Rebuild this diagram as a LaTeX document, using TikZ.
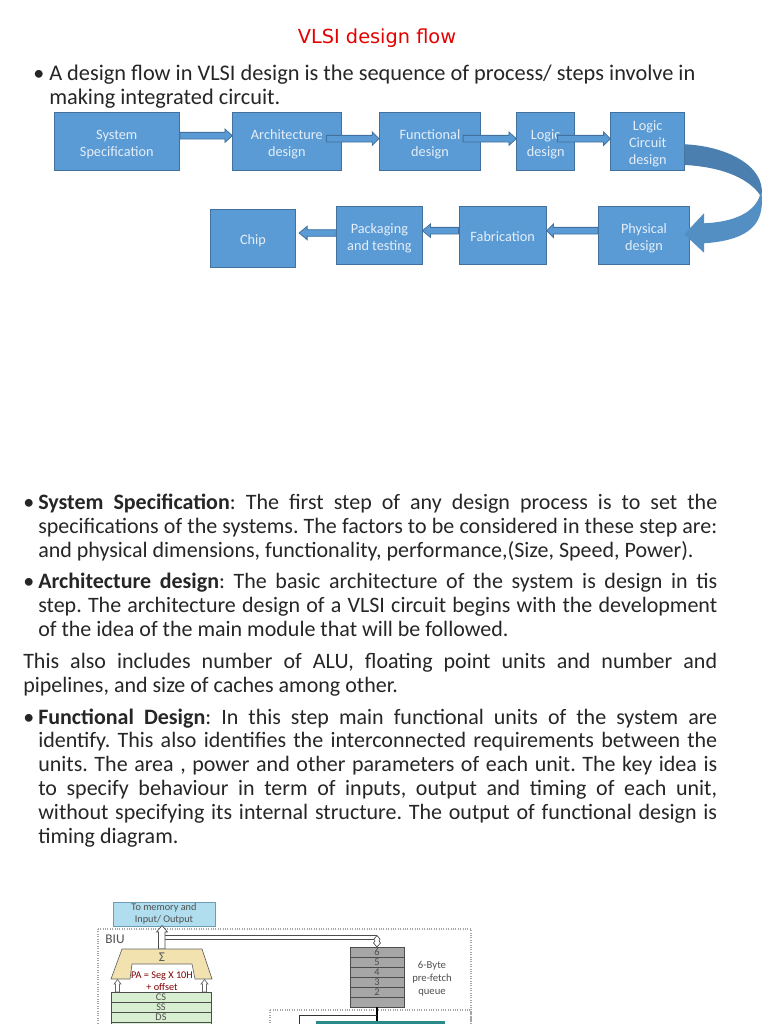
\documentclass[tikz,border=0pt]{standalone}
\usepackage{fontspec}
\setmainfont{Carlito}
\newfontfamily\titlefont{DejaVu Sans}
\usetikzlibrary{calc}
\frenchspacing
\definecolor{boxfill}{HTML}{5B9BD5}
\definecolor{boxline}{HTML}{41719C}
\definecolor{boxtext}{HTML}{E4EEF8}
\definecolor{ribbon}{HTML}{4A7FB0}
\definecolor{bodyink}{HTML}{262626}
\definecolor{figink}{HTML}{505050}
\definecolor{memfill}{HTML}{B0DEEE}
\definecolor{memline}{HTML}{6C9DB5}
\definecolor{adderfill}{HTML}{F1E2B0}
\definecolor{regfill}{HTML}{D8EED0}
\definecolor{alufill}{HTML}{2A8A8A}
\newcommand{\flowarrow}[3]{% start, end, head length
  \draw[flowshape]
    ($(#1)!2.5pt!90:(#2)$) --
    ($($(#2)!#3!(#1)$)!2.5pt!90:(#2)$) --
    ($($(#2)!#3!(#1)$)!5pt!90:(#2)$) --
    (#2) --
    ($($(#2)!#3!(#1)$)!5pt!-90:(#2)$) --
    ($($(#2)!#3!(#1)$)!2.5pt!-90:(#2)$) --
    ($(#1)!2.5pt!-90:(#2)$) -- cycle;}
\newcommand{\stepnode}[6]{% name, x0, y0, x1, y1, text
  \node[stepbox, minimum width=#4*0.75pt-#2*0.75pt, minimum height=#5*0.75pt-#3*0.75pt] (#1) at ({(#2+#4)/2},{(#3+#5)/2}) {\begin{tabular}{@{}c@{}}\noalign{\vskip 4.5pt}#6\end{tabular}};}
\newcommand{\jline}[5]{\node[textline] (#1) at (#2,#3) {\makebox[\dimexpr 0.75pt*#4\relax][s]{#5}};}
\newcommand{\pline}[4]{\node[textline] (#1) at (#2,#3) {#4};}
\tikzset{
  stepbox/.style={draw=boxline, fill=boxfill, line width=0.6pt, text=boxtext, inner sep=0pt,
     font=\fontsize{10.7pt}{12.75pt}\selectfont},
  flowshape/.style={draw=boxline, fill=boxfill, line width=0.6pt, line join=miter},
  textline/.style={anchor=base west, inner sep=0pt, yshift=-0.4pt, text=bodyink, font=\fontsize{16.5pt}{18pt}\selectfont},
  figlabel/.style={inner sep=0pt, text=figink, align=center, font=\fontsize{7.7pt}{9pt}\selectfont},
  dotbox/.style={draw=gray!70, densely dotted, line width=0.8pt},
  regrow/.style={draw=black!70, fill=regfill, line width=0.7pt},
  qrow/.style={draw=gray!60!black, fill=gray!70, line width=0.6pt},
}
\begin{document}
\begin{tikzpicture}[x=0.75pt,y=-0.75pt]
\useasboundingbox (0,0) rectangle (768,1024);
\clip (0,0) rectangle (768,1024);
\fill[white] (0,0) rectangle (768,1024);

\node[inner sep=0pt, text=red!90!black, font=\titlefont\fontsize{14.5pt}{16pt}\selectfont] (title) at (377,38) {VLSI design flow};
\pline{b0}{33}{80}{•}
\node[textline, font=\fontsize{16.75pt}{18pt}\selectfont] (intro1) at (49,80) {A design flow in VLSI design is the sequence of process/ steps involve in};
\node[textline, font=\fontsize{16.75pt}{18pt}\selectfont] (intro2) at (49,104) {making integrated circuit.};

\stepnode{sys}{54}{112.5}{179.5}{170.5}{System\\Specification}
\stepnode{arch}{232.7}{112.5}{341}{170.5}{Architecture\\design}
\stepnode{func}{379.3}{112.5}{480.7}{170.5}{Functional\\design}
\stepnode{logic}{516.7}{112.5}{574.7}{170.5}{Logic\\design}
\stepnode{circ}{610.7}{112.5}{684.7}{170.5}{Logic\\Circuit\\design}
\stepnode{chip}{210.3}{209.7}{295.7}{267.3}{Chip}
\stepnode{pack}{336.7}{206.7}{422}{264.3}{Packaging\\and testing}
\stepnode{fab}{459}{206.7}{546.3}{264.3}{Fabrication}
\stepnode{phys}{598.3}{206.7}{689.7}{264.3}{Physical\\design}

\flowarrow{$(sys.east)+(0,-5.8)$}{$(arch.west)+(0,-5.8)$}{5.5pt}
\flowarrow{$(arch.east)+(-15,-2.8)$}{$(func.west)+(0,-2.8)$}{5pt}
\flowarrow{$(func.east)+(-18,-2.8)$}{$(logic.west)+(0,-2.8)$}{5.5pt}
\flowarrow{$(logic.east)+(-17.7,-2.8)$}{$(circ.west)+(0,-2.8)$}{5pt}
\flowarrow{$(phys.west)+(0,-4.8)$}{$(fab.east)+(0,-4.8)$}{5pt}
\flowarrow{$(fab.west)+(0,-4.8)$}{$(pack.east)+(0,-4.8)$}{6pt}
\flowarrow{$(pack.west)+(0,-2.5)$}{$(chip.east)+(3,-5.5)$}{6pt}

% curved arrow
\fill[boxfill!92!black] (761.7,195) .. controls (764,222) and (752,240) .. (704,243.3)
   -- (704,252.7) -- (684.3,234.3) -- (704,213.3) -- (704,223.3)
   .. controls (735,222) and (755,212) .. (760,195) -- cycle;
\fill[ribbon] (684.7,144.3) .. controls (725,146) and (765,165) .. (761.7,195)
   -- (760,195) .. controls (750,180) and (725,167) .. (684.7,165) -- cycle;

% body text
\pline{b1}{23}{509}{•}
\jline{t1}{38}{509}{679}{\textbf{System Specification}: The first step of any design process is to set the}
\jline{t2}{38}{533}{679}{specifications of the systems. The factors to be considered in these step are:}
\pline{t3}{38}{557}{and physical dimensions, functionality, performance,(Size, Speed, Power).}
\pline{b2}{23}{588}{•}
\jline{t4}{38}{588}{679}{\textbf{Architecture design}: The basic architecture of the system is design in tis}
\jline{t5}{38}{612}{679}{step. The architecture design of a VLSI circuit begins with the development}
\pline{t6}{38}{636}{of the idea of the main module that will be followed.}
\jline{t7}{23}{668}{694}{This also includes number of ALU, floating point units and number and}
\pline{t8}{23}{692}{pipelines, and size of caches among other.}
\pline{b3}{23}{724}{•}
\jline{t9}{38}{724}{679}{\textbf{Functional Design}: In this step main functional units of the system are}
\jline{t10}{38}{747}{679}{identify. This also identifies the interconnected requirements between the}
\jline{t11}{38}{771}{679}{units. The area , power and other parameters of each unit. The key idea is}
\jline{t12}{38}{795}{679}{to specify behaviour in term of inputs, output and timing of each unit,}
\jline{t13}{38}{819}{679}{without specifying its internal structure. The output of functional design is}
\pline{t14}{38}{843}{timing diagram.}

% bottom figure
\draw[dotbox] (98,929) rectangle (471,1040);
\draw[dotbox] (270,1010) rectangle (471,1040);
\node[draw=memline, fill=memfill, line width=0.6pt, minimum width=76.5pt, minimum height=18pt, figlabel] (mem) at (164,914) {To memory and\\Input/ Output};
\node[figlabel, font=\fontsize{10pt}{11pt}\selectfont] (biu) at (115,939) {BIU};
\draw[draw=black!70, line width=0.5pt] (165,935) -- (377,935) (165,939) -- (374,939);
\draw[draw=black!70, fill=white, line width=0.5pt] (158.5,949) -- (158.5,932) -- (156.5,932) -- (162,925.5) -- (167.5,932) -- (165,932) -- (165,949) -- cycle;
\draw[draw=black!70, fill=white, line width=0.5pt] (374,939) -- (377,935.5) -- (380,939) -- (379,941) -- (380.5,943) -- (377,947) -- (373.5,943) -- (375,941) -- cycle;
\draw[draw=black!60, fill=adderfill, line width=0.5pt] (122,949) -- (202,949) -- (212,979) -- (195,979) -- (192,964) -- (132,964) -- (130,979) -- (111,979) -- cycle;
\node[figlabel, font=\fontsize{10pt}{11pt}\selectfont] (sigma) at (162,957) {Σ};
\node[figlabel, text=red!50!black] (pa) at (162,981) {PA = Seg X 10H\\+ offset};
\draw[draw=black!60, fill=white, line width=0.5pt] (115.5,992) -- (115.5,984) -- (114,984) -- (117.5,979.5) -- (121,984) -- (119.5,984) -- (119.5,992) -- cycle;
\draw[draw=black!60, fill=white, line width=0.5pt] (202.5,992) -- (202.5,984) -- (201,984) -- (204.5,979.5) -- (208,984) -- (206.5,984) -- (206.5,992) -- cycle;
\node[regrow, minimum width=75pt, minimum height=7.5pt, inner sep=0pt, figlabel] (cs) at (161,997) {CS};
\node[regrow, minimum width=75pt, minimum height=7.5pt, inner sep=0pt, figlabel] (ss) at (161,1007) {SS};
\node[regrow, minimum width=75pt, minimum height=7.5pt, inner sep=0pt, figlabel] (ds) at (161,1017) {DS};
\node[regrow, minimum width=75pt, minimum height=7.5pt, inner sep=0pt, figlabel] (es) at (161,1027) {};
\foreach \n/\lab/\yy in {q6/6/952,q5/5/962,q4/4/972,q3/3/982,q2/2/992,q1//1002}
  \node[qrow, minimum width=40.5pt, minimum height=7.5pt, inner sep=0pt, figlabel, text=black!70] (\n) at (377,\yy) {\lab};
\node[figlabel, font=\fontsize{8pt}{9.7pt}\selectfont] (qlab) at (432,979) {6-Byte\\pre-fetch\\queue};
\node[fill=alufill, minimum width=97pt, minimum height=6pt, inner sep=0pt] (alu) at (380.5,1025) {};
\draw[black, line width=1pt] (q1.south) -- (377,1021);
\draw[black!80, line width=0.7pt] (299,1030) -- (299,1015) -- (377,1015);
\end{tikzpicture}
\end{document}
